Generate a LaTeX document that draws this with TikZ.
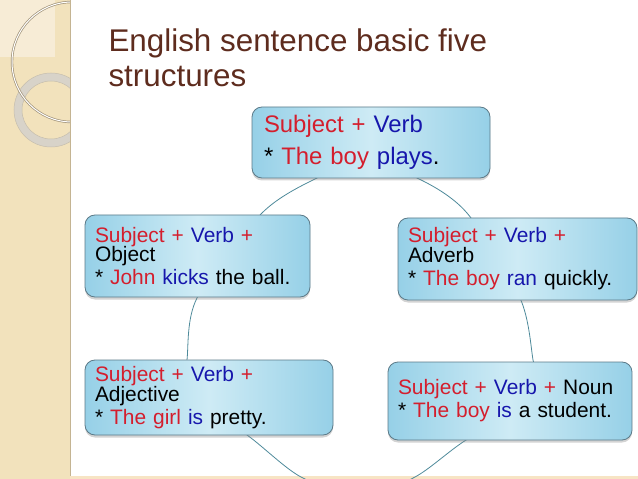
\documentclass[tikz,border=0pt]{standalone}
\usepackage{fontspec}
\setmainfont{Liberation Sans}
\usetikzlibrary{shadows}

\definecolor{panel}{RGB}{242,226,188}
\definecolor{panellight}{RGB}{247,236,214}
\definecolor{panelline}{RGB}{196,180,146}
\definecolor{ringgray}{RGB}{216,211,201}
\definecolor{arcgray}{RGB}{160,146,120}
\definecolor{titlebrown}{RGB}{94,44,30}
\definecolor{wordred}{RGB}{212,30,45}
\definecolor{wordblue}{RGB}{22,22,172}
\definecolor{boxside}{RGB}{150,208,231}
\definecolor{boxmid}{RGB}{206,235,245}
\definecolor{boxline}{RGB}{92,122,136}
\definecolor{cycleline}{RGB}{78,138,154}
\definecolor{strip}{RGB}{247,228,196}

\newcommand{\sred}[1]{\textcolor{wordred}{#1}}
\newcommand{\sblue}[1]{\textcolor{wordblue}{#1}}

\tikzset{
  sbox/.style={draw=boxline, line width=0.8bp, rounded corners=10bp,
    left color=boxside, right color=boxside, middle color=boxmid,
    drop shadow={opacity=0.35, shadow xshift=0bp, shadow yshift=-2.5bp},
    inner xsep=10bp, inner ysep=3bp, align=left, text=black,
    font=\fontsize{21}{20}\selectfont},
  ttl/.style={anchor=base west, text=titlebrown, font=\fontsize{31.5}{35}\selectfont}
}

\begin{document}
\begin{tikzpicture}[x=1bp,y=-1bp]
    \useasboundingbox (0,0) rectangle (638,479);
    \clip (0,0) rectangle (638,479);
    % side panel
    \fill[panel] (0,0) rectangle (70,479);
    \fill[panellight] (0,0) rectangle (55,57);
    \begin{scope}
        \clip (0,0) rectangle (70,479);
        \draw[ringgray, line width=8bp] (51,110) circle (33);
        \draw[arcgray!60, line width=0.5bp] (51,110) circle (37) (51,110) circle (29);
        \draw[arcgray, line width=2.4bp] (72,62) circle (60);
        \draw[white, line width=1bp] (72,62) circle (60);
    \end{scope}
    \draw[panelline, line width=0.8bp] (70,0) -- (70,479);
    \fill[strip] (70,476) rectangle (638,479);

    \node[ttl] (title) at (105,52) {English sentence basic five};
    \node[ttl] (title2) at (105,87) {structures};

    % cycle behind the boxes
    \draw[cycleline, line width=0.8bp] plot[smooth cycle] coordinates {
        (362,163) (417,178) (467,213) (520,298) (533,360) (536,395)
        (463,442) (415,477) (362,496) (301,477) (247,435) (186,395)
        (187,360) (197,298) (262,213) (317,178)};

    \node[sbox, text width=214bp, inner xsep=12bp, minimum height=71bp,
          font=\fontsize{24}{29}\selectfont] (sv) at (371,142.5)
        {\sred{Subject +} \sblue{Verb}\\[3bp]* \sred{The boy} \sblue{plays}.};
    \node[sbox, text width=205bp, minimum height=82bp] (svo) at (197.5,256)
        {\sred{Subject +} \sblue{Verb} \sred{+}\\Object\\[3bp]* \sred{John} \sblue{kicks} the ball.};
    \node[sbox, text width=219bp, minimum height=82bp] (sva) at (517.5,259)
        {\sred{Subject +} \sblue{Verb} \sred{+}\\Adverb\\[3bp]* \sred{The boy} \sblue{ran} quickly.};
    \node[sbox, text width=228bp, minimum height=75bp] (svc) at (209,397.5)
        {\sred{Subject +} \sblue{Verb} \sred{+}\\Adjective\\[3bp]* \sred{The girl} \sblue{is} pretty.};
    \node[sbox, text width=224bp, minimum height=78bp] (svn) at (510,401)
        {\sred{Subject +} \sblue{Verb} \sred{+} Noun\\[3bp]* \sred{The boy} \sblue{is} a student.};
\end{tikzpicture}
\end{document}
